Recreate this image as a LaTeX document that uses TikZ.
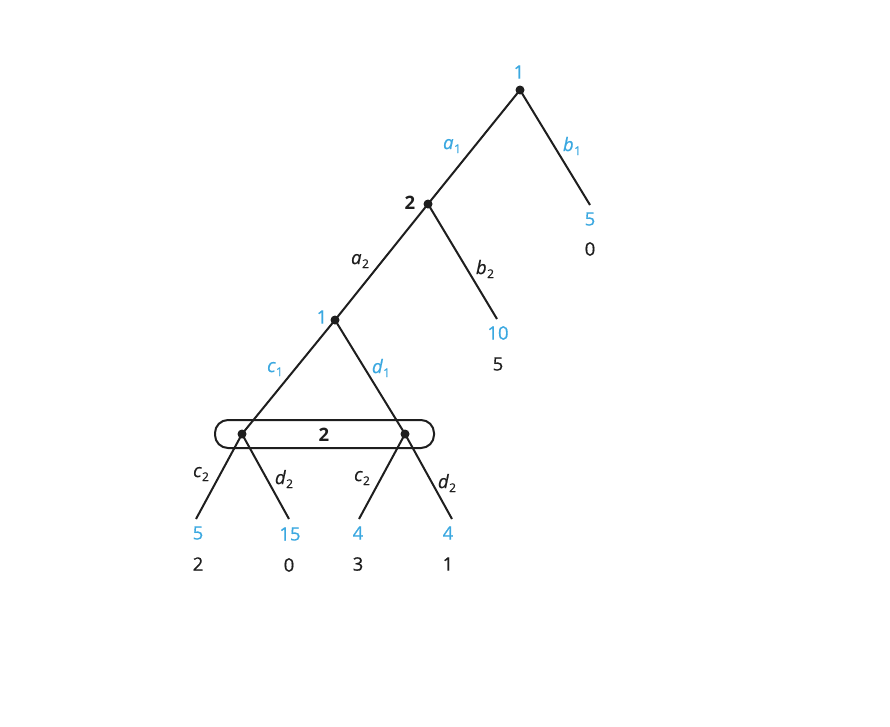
\documentclass[tikz,border=0pt]{standalone}
\usepackage{fontspec}
\setmainfont{Open Sans}[UprightFeatures={FakeBold=0.6},ItalicFeatures={FakeBold=0.6}]
\definecolor{pblue}{RGB}{59,168,224}
\definecolor{ink}{RGB}{30,30,30}
\newcommand{\lbl}[2]{{\itshape #1}\kern0.5pt\raisebox{-0.4ex}{\fontsize{12}{14}\selectfont #2}}
\begin{document}
\begin{tikzpicture}[x=1pt,y=-1pt,
  edge/.style={draw=ink,line width=2pt},
  dot/.style={circle,fill=ink,inner sep=0pt,minimum size=9pt},
  pa/.style={text=pblue,font=\fontsize{18.5}{22}\selectfont,inner sep=0pt},
  pb/.style={text=ink,font=\fontsize{18.5}{22}\selectfont,inner sep=0pt},
  pl/.style={text=ink,font=\bfseries\fontsize{18.5}{22}\selectfont,inner sep=0pt},
  ea/.style={text=pblue,font=\fontsize{18.5}{22}\selectfont,inner sep=0pt},
  eb/.style={text=ink,font=\fontsize{18.5}{22}\selectfont,inner sep=0pt}]
\useasboundingbox (0,0) rectangle (890,726);
% info set
\node[draw=ink,line width=2pt,rounded corners=13pt,minimum width=219pt,minimum height=28pt,inner sep=0pt] (info) at (324.5,434) {};
\node[pl] (infol) at (324,435) {2};
% decision nodes
\node[dot] (r) at (520,90) {};
\node[dot] (n2) at (428,204) {};
\node[dot] (n1) at (335,320) {};
\node[dot] (L) at (242,434) {};
\node[dot] (R) at (405,434) {};
% leaves
\coordinate (lb1) at (590,205);
\coordinate (lb2) at (497,319);
\coordinate (l1) at (196,519);
\coordinate (l2) at (289,519);
\coordinate (l3) at (359,519);
\coordinate (l4) at (452,519);
% edges
\draw[edge] (r.center) -- (n2.center);
\draw[edge] (r.center) -- (lb1);
\draw[edge] (n2.center) -- (n1.center);
\draw[edge] (n2.center) -- (lb2);
\draw[edge] (n1.center) -- (L.center);
\draw[edge] (n1.center) -- (R.center);
\draw[edge] (L.center) -- (l1);
\draw[edge] (L.center) -- (l2);
\draw[edge] (R.center) -- (l3);
\draw[edge] (R.center) -- (l4);
% player labels
\node[pa] (p1) at (519,72) {1};
\node[pl] (p2) at (410,203) {2};
\node[pa] (p3) at (322,317) {1};
% edge labels
\node[ea] (ea1) at (452,146) {\lbl{a}{1}};
\node[ea] (eb1) at (572,146) {\lbl{b}{1}};
\node[eb] (ea2) at (360,261) {\lbl{a}{2}};
\node[eb] (eb2) at (485,269) {\lbl{b}{2}};
\node[ea] (ec1) at (275,369) {\lbl{c}{1}};
\node[ea] (ed1) at (381,368) {\lbl{d}{1}};
\node[eb] (ec2a) at (201,474) {\lbl{c}{2}};
\node[eb] (ed2a) at (284,479) {\lbl{d}{2}};
\node[eb] (ec2b) at (362,478) {\lbl{c}{2}};
\node[eb] (ed2b) at (447,483) {\lbl{d}{2}};
% payoffs
\node[pa] (u1a) at (590,219) {5};
\node[pb] (u1b) at (590,249) {0};
\node[pa] (u2a) at (498,333) {10};
\node[pb] (u2b) at (498,364) {5};
\node[pa] (u3a) at (198,533) {5};
\node[pb] (u3b) at (198,564) {2};
\node[pa] (u4a) at (290,534) {15};
\node[pb] (u4b) at (289,565) {0};
\node[pa] (u5a) at (358,533) {4};
\node[pb] (u5b) at (358,564) {3};
\node[pa] (u6a) at (448,533) {4};
\node[pb] (u6b) at (448,564) {1};
\end{tikzpicture}
\end{document}
